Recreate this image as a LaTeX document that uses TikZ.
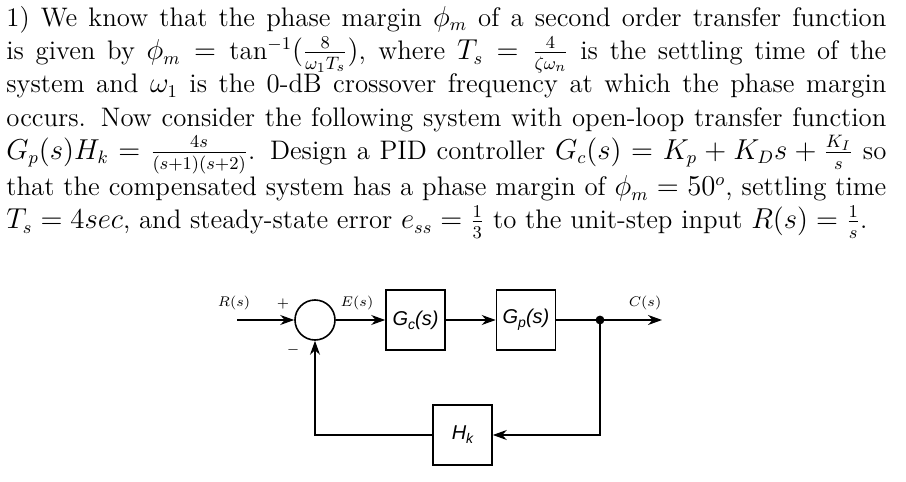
\documentclass[tikz,border=0pt]{standalone}
\usepackage{fontspec}
\newfontfamily\hv{Liberation Sans}
\usetikzlibrary{arrows.meta}
\begin{document}
\begin{tikzpicture}[x=0.5pt,y=-0.5pt,
  blk/.style={draw,line width=0.8pt,minimum width=29.5pt,minimum height=30pt,inner sep=0pt,font=\hv\itshape\fontsize{10}{12}\selectfont},
  sig/.style={line width=0.8pt,-{Stealth[length=7pt,width=5pt]}},
  ln/.style={line width=0.8pt},
  lab/.style={font=\scriptsize,inner sep=1pt}]
\useasboundingbox (0,0) rectangle (906,482);
\node[anchor=north west,inner sep=0pt,text width=440pt,align=justify,font=\fontsize{13.4}{16.6}\selectfont] (txt) at (6,6) {%
1) We know that the phase margin $\phi_m$ of a second order transfer function\linebreak
is given by $\phi_m=\tan^{-1}(\frac{8}{\omega_1 T_s})$, where $T_s=\frac{4}{\zeta\omega_n}$ is the settling time of the\linebreak
system and $\omega_1$ is the 0-dB crossover frequency at which the phase margin\linebreak
occurs. Now consider the following system with open-loop transfer function\linebreak
$G_p(s)H_k=\frac{4s}{(s+1)(s+2)}$. Design a PID controller $G_c(s)=K_p+K_Ds+\frac{K_I}{s}$ so\linebreak
that the compensated system has a phase margin of $\phi_m=50^o$, settling time\linebreak
$T_s=4sec$, and steady-state error $e_{ss}=\frac13$ to the unit-step input $R(s)=\frac1s$.};
\coordinate (in) at (237,320);
\node[draw,circle,line width=0.8pt,minimum size=20pt,inner sep=0pt] (sum) at (315,320) {};
\node[blk] (gc) at (415.5,320) {G\raisebox{-0.4ex}{\scriptsize c}(s)};
\node[blk] (gp) at (526,320) {G\raisebox{-0.4ex}{\scriptsize p}(s)};
\node[blk] (hk) at (462.5,435) {H\raisebox{-0.4ex}{\scriptsize k}};
\fill (600,320) circle (2.2pt) coordinate (dot);
\coordinate (out) at (662,320);
\draw[sig] (in) -- (sum);
\draw[sig] (sum) -- (gc);
\draw[sig] (gc) -- (gp);
\draw[ln] (gp) -- (dot);
\draw[sig] (dot) -- (out);
\draw[sig] (dot) |- (hk);
\draw[sig] (hk) -| (sum);
\node[lab] at (234,303) {$R(s)$};
\node[lab] at (283,304) {$+$};
\node[lab] at (293,350) {$-$};
\node[lab] at (357,303) {$E(s)$};
\node[lab] at (645,303) {$C(s)$};
\end{tikzpicture}
\end{document}
